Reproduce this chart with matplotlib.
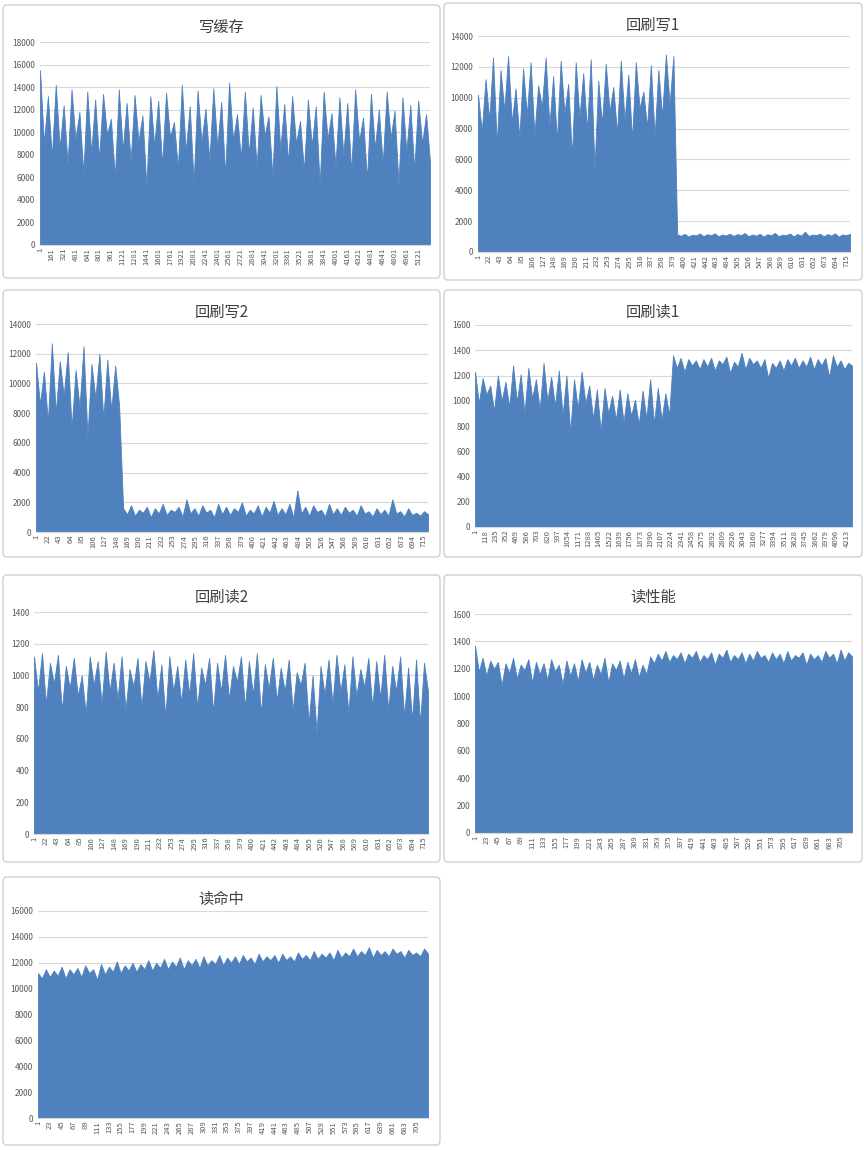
import numpy as np
import matplotlib
matplotlib.use("Agg")
import matplotlib.pyplot as plt
from matplotlib.patches import FancyBboxPatch

plt.rcParams['font.family'] = ['Noto Sans CJK SC', 'DejaVu Sans']

titles = ["写缓存", "回刷写1", "回刷写2", "回刷读1", "回刷读2", "读性能", "读命中"]

write_cache = [15500, 9000, 13200, 7800, 14200, 8600, 12400, 7200, 13800, 9400, 11800, 6400, 13600, 8200, 12900, 7600, 13400, 9800, 11200, 6000,
               13800, 8400, 12600, 7400, 13300, 9200, 11500, 5200, 13200, 8800, 12800, 7100, 13500, 9600, 10900, 6800, 14200, 8300, 12300, 5600,
               13700, 9100, 12100, 7500, 13900, 8700, 12700, 6200, 14400, 9300, 11600, 7700, 13600, 8100, 12200, 6900, 13300, 9700, 11400, 6100,
               14100, 8500, 12500, 7300, 13200, 9000, 11000, 6600, 12900, 8800, 12300, 5300, 13600, 9400, 11700, 7000, 13100, 8000, 12600, 6500,
               13800, 9200, 11300, 5800, 13400, 8600, 12000, 7200, 13600, 9500, 11900, 5400, 13100, 8300, 12400, 6700, 12800, 9000, 11600, 7400]

flush_write1 = [10200, 7800, 11200, 8600, 12600, 7000, 11800, 9200, 12700, 8400, 10600, 7400, 11900, 8900, 12300, 7600, 10800, 9400, 12600, 8200,
                11400, 7200, 12400, 9000, 10900, 6200, 12300, 8700, 11600, 7900, 12500, 5400, 11100, 8300, 12200, 9100, 10700, 7700, 12400, 8500,
                11500, 7300, 12300, 9300, 10400, 8100, 12100, 7500, 11800, 8800, 12800, 9600, 12700, 1150, 1050, 1180, 1000, 1120, 1080, 1200,
                1030, 1150, 1090, 1210, 1010, 1130, 1070, 1190, 1040, 1160, 1100, 1230, 1020, 1140, 1060, 1180, 1000, 1150, 1080, 1240,
                1030, 1120, 1090, 1200, 1010, 1170, 1060, 1320, 1040, 1130, 1100, 1190, 1020, 1160, 1070, 1210, 1000, 1140, 1090, 1180]

flush_write2 = [11400, 8600, 10800, 7400, 12700, 8000, 11500, 9200, 12100, 7000, 10900, 8400, 12500, 6400, 11300, 9000, 12000, 7600, 11600, 8200,
                11200, 8500, 1600, 1200, 1800, 1100, 1500, 1300, 1700, 1000, 1600, 1250, 1900, 1150, 1500, 1350, 1700, 1050, 2200, 1250,
                1600, 1100, 1800, 1300, 1500, 1000, 1900, 1200, 1700, 1150, 1600, 1350, 2000, 1100, 1500, 1250, 1800, 1050, 1700, 1300,
                2100, 1150, 1600, 1200, 1900, 1000, 2800, 1250, 1700, 1100, 1800, 1350, 1500, 1050, 1900, 1200, 1600, 1150, 1700, 1300,
                1500, 1100, 1800, 1250, 1400, 1050, 1600, 1200, 1500, 1100, 2200, 1250, 1400, 1050, 1600, 1150, 1300, 1100, 1400, 1200]

flush_read1 = [1230, 980, 1180, 1050, 1120, 920, 1200, 1000, 1150, 950, 1280, 990, 1210, 900, 1260, 1020, 1170, 930, 1300, 1000,
               1190, 960, 1240, 880, 1200, 750, 1170, 940, 1230, 980, 1120, 860, 1090, 760, 1100, 900, 1040, 850, 1090, 830,
               1060, 880, 1010, 810, 1080, 860, 1170, 820, 1100, 850, 1060, 890, 1360, 1260, 1340, 1230, 1330, 1280, 1320, 1250,
               1330, 1270, 1340, 1240, 1320, 1290, 1350, 1220, 1310, 1270, 1380, 1250, 1340, 1290, 1320, 1260, 1330, 1180, 1300, 1260,
               1320, 1240, 1330, 1280, 1340, 1260, 1320, 1270, 1350, 1250, 1330, 1280, 1340, 1190, 1360, 1270, 1320, 1250, 1300, 1280]

flush_read2 = [1120, 900, 1140, 820, 1080, 950, 1130, 780, 1060, 920, 1110, 870, 1000, 760, 1120, 940, 1090, 820, 1150, 900,
               1080, 850, 1120, 780, 1040, 930, 1110, 800, 1090, 960, 1160, 850, 1070, 740, 1120, 900, 1060, 830, 1100, 880,
               1140, 800, 1050, 940, 1110, 770, 1080, 900, 1130, 850, 1060, 960, 1120, 800, 1090, 880, 1140, 760, 1070, 920,
               1110, 840, 1050, 900, 1100, 780, 1020, 940, 1080, 700, 1000, 640, 1060, 880, 1100, 820, 1130, 900, 1070, 760,
               1120, 870, 1040, 930, 1110, 800, 1090, 860, 1130, 780, 1060, 900, 1120, 740, 1050, 720, 1100, 700, 1080, 900]

read_perf = [1370, 1180, 1280, 1150, 1260, 1200, 1250, 1080, 1240, 1170, 1280, 1130, 1230, 1190, 1270, 1100, 1250, 1160, 1240, 1120,
             1270, 1180, 1230, 1090, 1260, 1150, 1240, 1110, 1270, 1170, 1250, 1120, 1230, 1160, 1280, 1100, 1240, 1190, 1260, 1130,
             1250, 1170, 1270, 1140, 1230, 1160, 1290, 1240, 1310, 1260, 1330, 1250, 1300, 1270, 1320, 1240, 1310, 1280, 1330, 1250,
             1300, 1270, 1320, 1230, 1310, 1280, 1340, 1250, 1300, 1270, 1320, 1240, 1310, 1260, 1330, 1280, 1300, 1250, 1320, 1270,
             1310, 1240, 1330, 1260, 1300, 1280, 1320, 1230, 1310, 1270, 1300, 1250, 1330, 1280, 1310, 1240, 1340, 1260, 1320, 1290]

read_hit = [11200, 10800, 11500, 10900, 11400, 11000, 11700, 10800, 11500, 11100, 11600, 10900, 11800, 11200, 11500, 10700, 11900, 11100, 11700, 11300,
            12100, 11200, 11800, 11400, 12000, 11300, 11900, 11500, 12200, 11400, 12000, 11600, 12300, 11500, 12100, 11700, 12400, 11500, 12200, 11800,
            12300, 11600, 12500, 11800, 12200, 11900, 12600, 11800, 12400, 12000, 12500, 11900, 12600, 12100, 12400, 11900, 12700, 12100, 12500, 12200,
            12600, 12000, 12700, 12200, 12500, 12100, 12800, 12300, 12600, 12200, 12900, 12300, 12700, 12400, 12800, 12200, 13000, 12400, 12800, 12500,
            13100, 12500, 12900, 12600, 13200, 12400, 13000, 12600, 12900, 12500, 13100, 12700, 12900, 12400, 13000, 12600, 12800, 12500, 13100, 12700]

series = [write_cache, flush_write1, flush_write2, flush_read1, flush_read2, read_perf, read_hit]

ticks_write_cache = ["1", "161", "321", "481", "641", "801", "961", "1121", "1281", "1441", "1601", "1761", "1921", "2081", "2241", "2401", "2561",
                     "2721", "2881", "3041", "3201", "3361", "3521", "3681", "3841", "4001", "4161", "4321", "4481", "4641", "4801", "4961", "5121"]
ticks_21 = ["1", "22", "43", "64", "85", "106", "127", "148", "169", "190", "211", "232", "253", "274", "295", "316", "337", "358",
            "379", "400", "421", "442", "463", "484", "505", "526", "547", "568", "589", "610", "631", "652", "673", "694", "715"]
ticks_117 = ["1", "118", "235", "352", "469", "586", "703", "820", "937", "1054", "1171", "1288", "1405", "1522", "1639", "1756", "1873",
             "1990", "2107", "2224", "2341", "2458", "2575", "2692", "2809", "2926", "3043", "3160", "3277", "3394", "3511", "3628",
             "3745", "3862", "3979", "4096", "4213"]
ticks_22 = ["1", "23", "45", "67", "89", "111", "133", "155", "177", "199", "221", "243", "265", "287", "309", "331", "353", "375",
            "397", "419", "441", "463", "485", "507", "529", "551", "573", "595", "617", "639", "661", "683", "705"]
tick_sets = [ticks_write_cache, ticks_21, ticks_21, ticks_117, ticks_21, ticks_22, ticks_22]
ymax = [18000, 14000, 14000, 1600, 1400, 1600, 16000]
ystep = [2000, 2000, 2000, 200, 200, 200, 2000]
tick_frac = [0.97, 0.99, 0.99, 0.985, 0.99, 0.97, 0.97]

W, H = 864, 1150
fig = plt.figure(figsize=(W / 100, H / 100), dpi=100)
panels = [(3, 5, 440, 278), (444, 3, 862, 280), (3, 290, 440, 557), (444, 290, 862, 557),
          (3, 575, 440, 862), (444, 575, 862, 862), (3, 877, 440, 1145)]
areas = [(40, 42, 430, 245), (478, 36, 850, 252), (36, 324, 428, 532), (475, 325, 852, 527),
         (34, 612, 428, 834), (475, 614, 852, 833), (38, 911, 428, 1118)]
color = "#4e81bd"
for i in range(7):
    px0, py0, px1, py1 = panels[i]
    box = FancyBboxPatch((px0 / W, 1 - py1 / H), (px1 - px0) / W, (py1 - py0) / H,
                         boxstyle="round,pad=0,rounding_size=0.004", transform=fig.transFigure,
                         facecolor="white", edgecolor="#d0d0d0", linewidth=1, zorder=-10)
    fig.patches.append(box)
    ax0, ay0, ax1, ay1 = areas[i]
    ax = fig.add_axes([ax0 / W, 1 - ay1 / H, (ax1 - ax0) / W, (ay1 - ay0) / H])
    ax.patch.set_alpha(0)
    vals = np.array(series[i], dtype=float)
    x = np.arange(len(vals))
    ax.fill_between(x, vals, 0, color=color, linewidth=0.6, edgecolor=color)
    ax.set_xlim(0, len(vals) - 1)
    ax.set_ylim(0, ymax[i])
    ax.set_yticks(np.arange(0, ymax[i] + 1, ystep[i]))
    ax.yaxis.grid(True, color="#d9d9d9", linewidth=0.8)
    ax.set_axisbelow(True)
    labels = tick_sets[i]
    pos = np.linspace(0, (len(vals) - 1) * tick_frac[i], len(labels))
    ax.set_xticks(pos)
    ax.set_xticklabels(labels, rotation=90, fontsize=5.5, color="#595959")
    ax.tick_params(axis='y', labelsize=6, colors="#595959", length=0)
    ax.tick_params(axis='x', length=0, pad=2)
    for s in ["top", "right", "left"]:
        ax.spines[s].set_visible(False)
    ax.spines["bottom"].set_color("#d9d9d9")
    fig.text((px0 + px1) / 2 / W, 1 - (py0 + 22) / H, titles[i], ha="center", va="center",
             fontsize=11, color="#404040")

fig.savefig("out.png", dpi=100)
